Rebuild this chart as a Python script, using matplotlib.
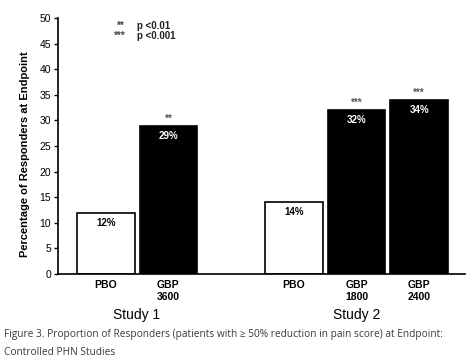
import matplotlib
matplotlib.use("Agg")
import matplotlib.pyplot as plt

plt.rcParams['font.family'] = ['Liberation Sans', 'DejaVu Sans']

# data
groups = ['PBO', 'GBP\n3600', 'PBO', 'GBP\n1800', 'GBP\n2400']
positions = [0, 1, 3, 4, 5]
values = [12, 29, 14, 32, 34]
stars = ['', '**', '', '***', '***']
is_drug = [False, True, False, True, True]
studies = ['Study 1', 'Study 2']
study_centers = [0.5, 4]

fig = plt.figure(figsize=(4.74, 3.63), dpi=100)
ax = fig.add_axes([0.1224, 0.2452, 0.8586, 0.7052])

colors = ['black' if d else 'white' for d in is_drug]
ax.bar(positions, values, width=0.92, color=colors, edgecolor='black', linewidth=1.2)

for x, v, s, d in zip(positions, values, stars, is_drug):
    ax.text(x, v - 1.0, f'{v}%', ha='center', va='top', fontsize=7, fontweight='bold',
            color='white' if d else 'black')
    if s:
        ax.text(x, v + 0.4, s, ha='center', va='bottom', fontsize=7, fontweight='bold',
                color='#555555')

ax.set_xlim(-0.76, 5.73)
ax.set_ylim(0, 50)
ax.set_yticks(range(0, 51, 5))
ax.tick_params(axis='y', labelsize=7.5, length=3, width=1, pad=2)
ax.set_xticks(positions)
ax.set_xticklabels(groups, fontsize=7.5, fontweight='bold', linespacing=1.25)
ax.tick_params(axis='x', length=0, pad=4)

for side in ['top', 'right']:
    ax.spines[side].set_visible(False)
for side in ['left', 'bottom']:
    ax.spines[side].set_linewidth(1.2)

ax.set_ylabel('Percentage of Responders at Endpoint', fontsize=8, fontweight='bold')
ax.yaxis.set_label_coords(-0.07, 0.47)

for c, st in zip(study_centers, studies):
    ax.text(c, -8.0, st, ha='center', va='center', fontsize=10)

# significance key
ax.text(0.31, 48.4, '**', ha='right', va='center', fontsize=7, fontweight='bold', color='#444444')
ax.text(0.31, 46.5, '***', ha='right', va='center', fontsize=7, fontweight='bold', color='#444444')
ax.text(0.50, 48.4, 'p <0.01', ha='left', va='center', fontsize=7, fontweight='bold', color='#222222')
ax.text(0.50, 46.5, 'p <0.001', ha='left', va='center', fontsize=7, fontweight='bold', color='#222222')

fig.text(0.008, 0.053, 'Figure 3. Proportion of Responders (patients with \u2265 50% reduction in pain score) at Endpoint:\nControlled PHN Studies',
         ha='left', va='center', fontsize=7.3, color='#3a3a3a', family=['Open Sans', 'DejaVu Sans'], linespacing=1.85)

fig.savefig('out.png', dpi=100)
